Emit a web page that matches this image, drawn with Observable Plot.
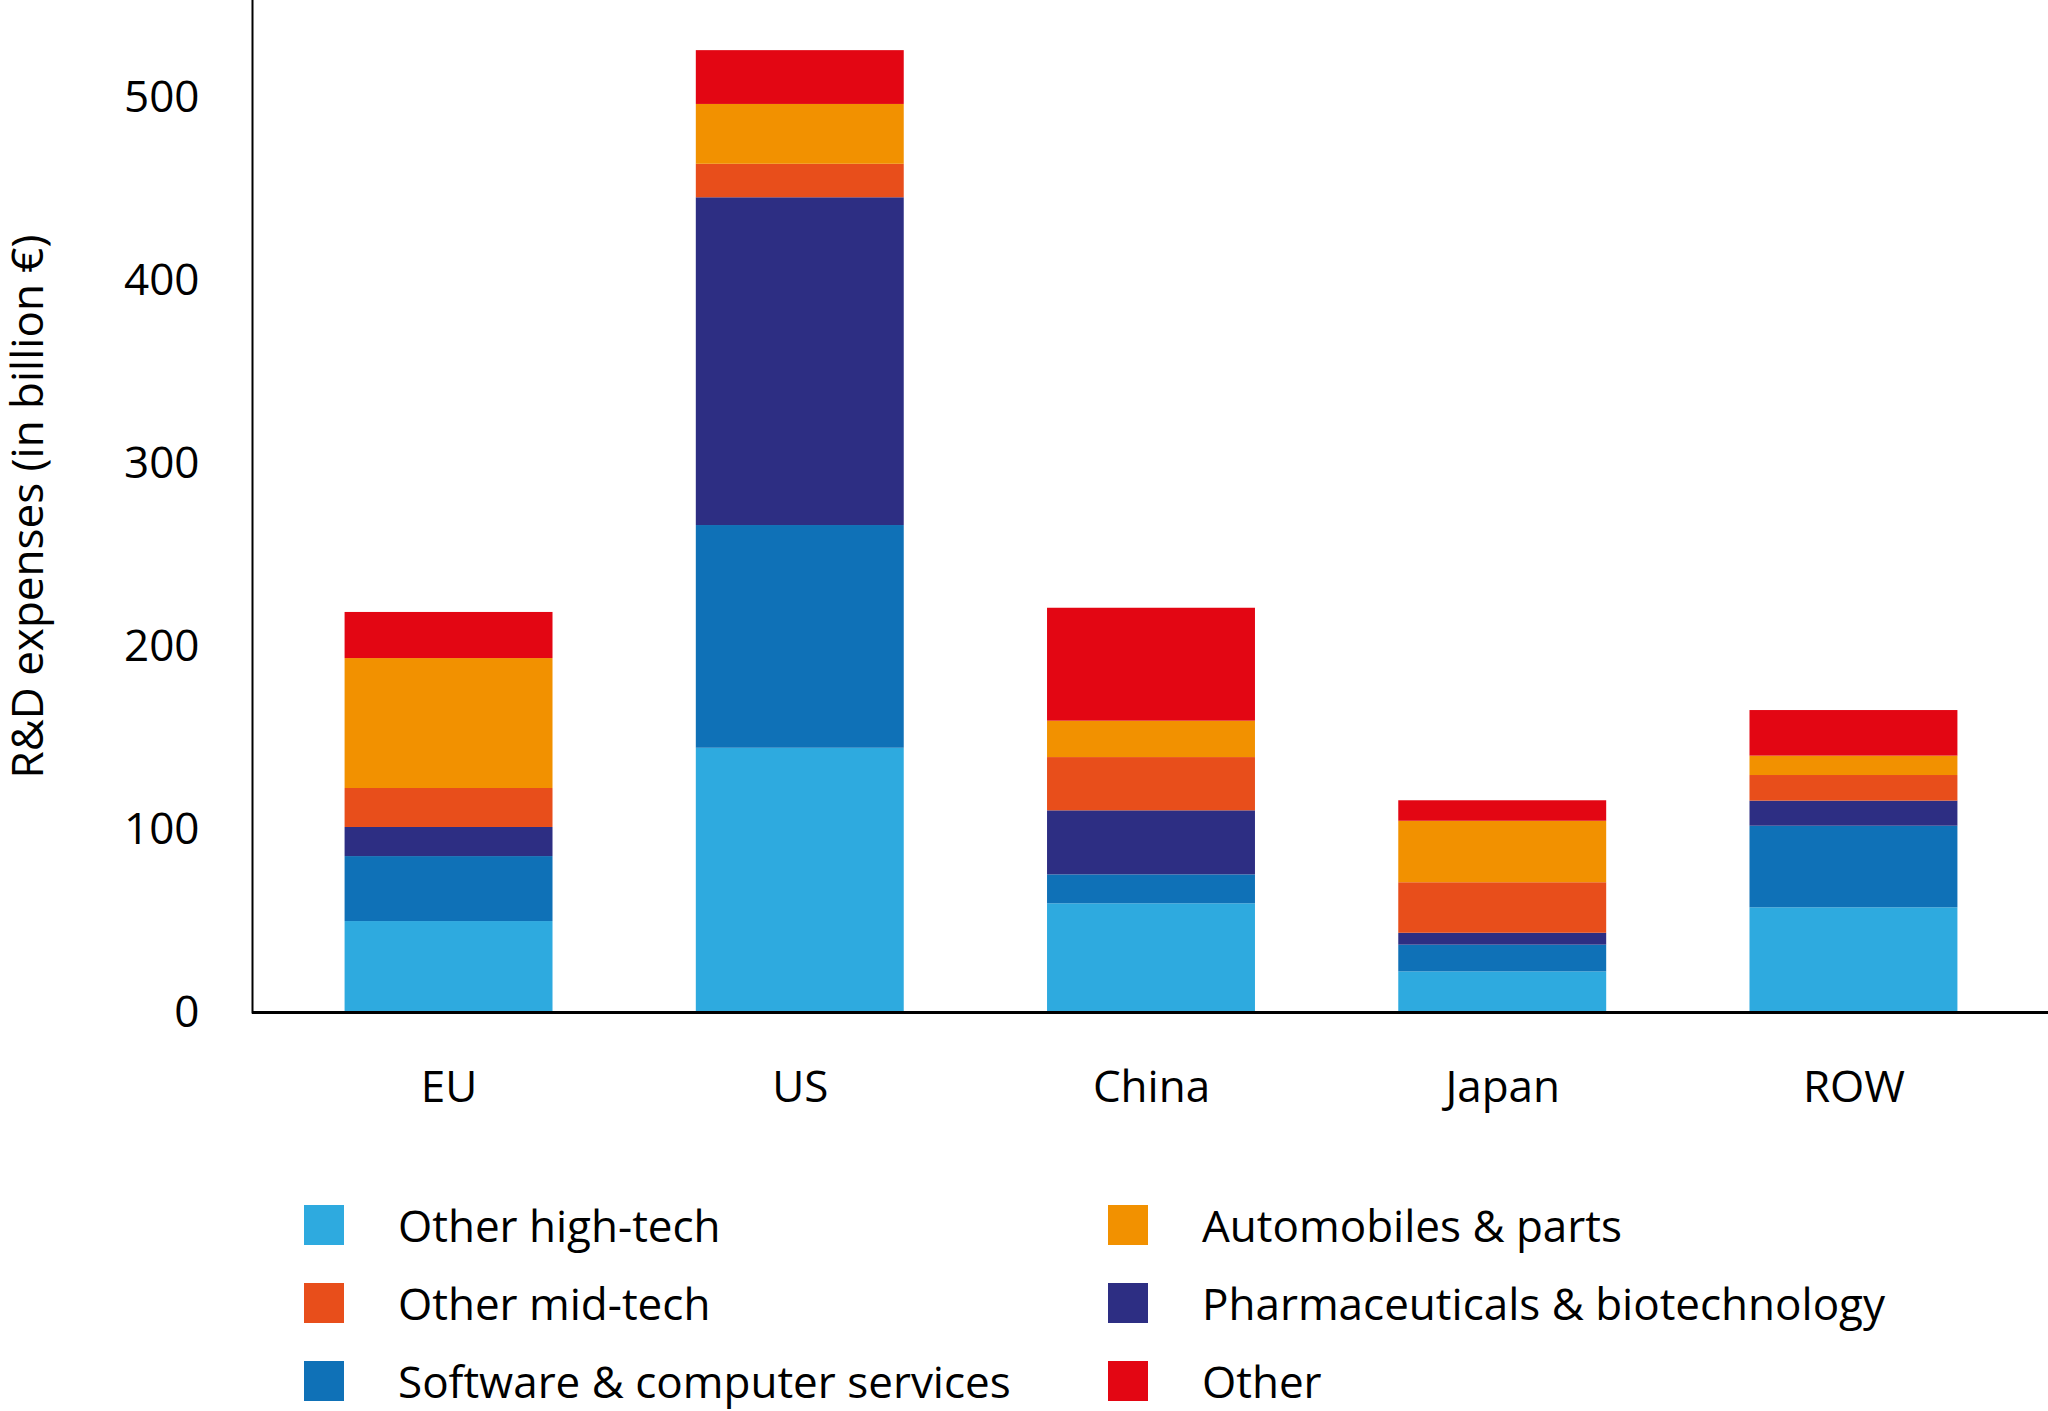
<!DOCTYPE html>
<html>
<head>
<meta charset="utf-8">
<script src="https://cdn.jsdelivr.net/npm/d3@7"></script>
<script src="https://cdn.jsdelivr.net/npm/@observablehq/plot@0.6"></script>
<style>
  html, body { margin: 0; padding: 0; background: #fff; }
  body { width: 2048px; font-family: "Open Sans", sans-serif; color: #000; }
  #legend {
    display: grid;
    grid-template-columns: 804px auto;
    grid-auto-rows: 78px;
    margin-left: 304px;
    padding-top: 46px;
    font-size: 44px;
  }
  .item { display: flex; align-items: center; }
  .sw { width: 40px; height: 40px; margin-right: 54px; flex: none; }
</style>
</head>
<body>
<div id="chart"></div>
<div id="legend"></div>
<script>
const regions = ["EU", "US", "China", "Japan", "ROW"];
const sectors = ["Other high-tech", "Software & computer services", "Pharmaceuticals & biotechnology", "Other mid-tech", "Automobiles & parts", "Other"];
const otherHighTech = [49.7, 144.4, 59.4, 22.2, 57.2];
const software      = [35.5, 121.7, 15.8, 14.6, 44.6];
const pharma        = [15.9, 179.1, 35.0, 6.5, 13.7];
const otherMidTech  = [21.3, 18.3, 29.1, 27.6, 14.0];
const automobiles   = [71.0, 32.7, 19.9, 33.6, 10.6];
const other         = [25.2, 29.4, 61.7, 11.2, 24.9];
const colors = ["#2EAADF", "#0F71B7", "#2D2E83", "#E84E1B", "#F29100", "#E30613"];
const yTicks = [0, 100, 200, 300, 400, 500];
const yLabel = "R&D expenses (in billion €)";
const legendOrder = ["Other high-tech", "Automobiles & parts", "Other mid-tech", "Pharmaceuticals & biotechnology", "Software & computer services", "Other"];

const series = [otherHighTech, software, pharma, otherMidTech, automobiles, other];
const data = [];
sectors.forEach((s, i) => regions.forEach((r, j) => data.push({region: r, sector: s, value: series[i][j]})));

const chart = Plot.plot({
  width: 2048,
  height: 1140,
  marginLeft: 252,
  marginRight: 0,
  marginTop: 0,
  marginBottom: 128,
  style: {fontFamily: "Open Sans, sans-serif", fontSize: "44px", background: "#fff", color: "#000"},
  x: {domain: regions, range: [252, 2050], round: false, paddingInner: 0.408, paddingOuter: 0.2636, label: null, tickSize: 0, tickPadding: 58},
  y: {domain: [0, 553], ticks: yTicks, tickSize: 0, tickPadding: 53, label: null},
  color: {domain: sectors, range: colors},
  marks: [
    Plot.barY(data, {x: "region", y: "value", fill: "sector", order: sectors}),
    Plot.ruleY([0], {stroke: "#000", strokeWidth: 3}),
    Plot.frame({anchor: "left", stroke: "#000", strokeWidth: 2}),
    Plot.text([yLabel], {frameAnchor: "left", rotate: -90, dx: -224, textAnchor: "middle", lineAnchor: "middle", fontSize: 44, fill: "#000"})
  ]
});
document.getElementById("chart").appendChild(chart);

const legend = document.getElementById("legend");
legendOrder.forEach(name => {
  const item = document.createElement("div");
  item.className = "item";
  const sw = document.createElement("span");
  sw.className = "sw";
  sw.style.background = colors[sectors.indexOf(name)];
  const label = document.createElement("span");
  label.textContent = name;
  item.appendChild(sw);
  item.appendChild(label);
  legend.appendChild(item);
});
</script>
</body>
</html>
